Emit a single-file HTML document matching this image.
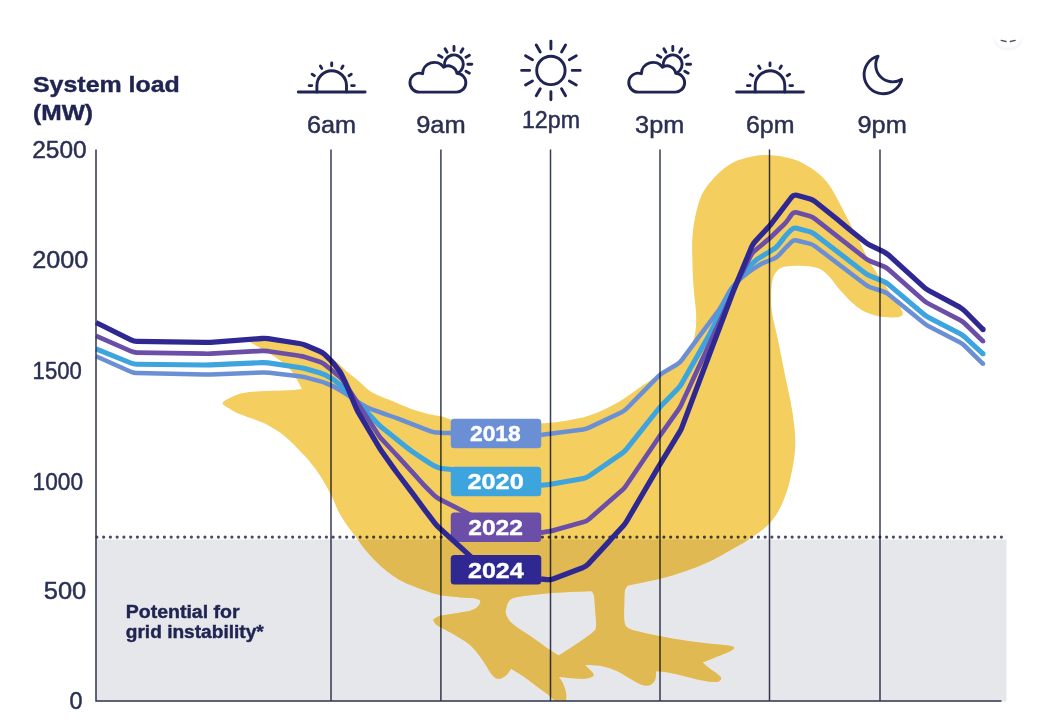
<!DOCTYPE html>
<html lang="en"><head><meta charset="utf-8"><title>System load duck curve</title>
<style>
html,body{margin:0;padding:0;background:#fff}
body{width:1060px;height:726px;overflow:hidden}
svg{display:block}
text{font-family:"Liberation Sans",sans-serif}
.ax{fill:#2a3054;stroke:#2a3054;stroke-width:0.45}
.b{font-weight:bold;stroke-width:0.4}
.ln{fill:none;stroke-linejoin:round;stroke-linecap:butt}
.ic{fill:none;stroke:#1f2452;stroke-width:2.9;stroke-linecap:round;stroke-linejoin:round}
.g{stroke:#383d57;stroke-width:1.5;mix-blend-mode:multiply}
</style></head><body>
<svg width="1060" height="726" viewBox="0 0 1060 726">
<defs>
<clipPath id="gz"><rect x="96" y="539.5" width="910.5" height="162.0"/></clipPath>
<path id="duck" fill-rule="evenodd" d="M247.0 340.5C249.5 341.9 257.3 346.2 262.0 349.0C266.7 351.8 270.7 354.0 275.0 357.0C279.3 360.0 284.5 363.5 288.0 367.0C291.5 370.5 293.7 374.3 296.0 378.0C298.3 381.7 301.0 387.2 302.0 389.0C299.9 389.2 295.2 389.9 289.3 390.2C283.4 390.5 273.2 390.7 266.6 391.0C260.0 391.3 254.3 391.6 249.6 392.1C244.9 392.7 241.7 393.3 238.3 394.3C234.9 395.3 231.6 397.2 229.3 398.3C227.0 399.4 225.6 400.2 224.5 401.0C223.4 401.8 222.7 402.3 222.6 403.0C222.5 403.7 223.2 404.5 224.0 405.3C224.8 406.1 225.1 406.2 227.5 407.6C229.9 409.0 233.7 411.6 238.3 413.6C242.9 415.6 250.6 418.0 255.3 419.8C260.0 421.6 262.8 422.5 266.6 424.4C270.4 426.3 274.2 428.6 278.0 431.2C281.8 433.8 285.9 437.2 289.3 440.2C292.7 443.2 294.9 445.7 298.3 449.3C301.8 452.9 306.4 457.6 310.0 462.0C313.6 466.4 316.5 470.0 320.0 475.5C323.5 481.0 327.9 488.7 331.0 494.8C334.1 500.9 336.1 507.0 338.9 512.2C341.6 517.4 344.6 521.8 347.5 526.0C350.4 530.2 353.9 534.0 356.6 537.7C359.4 541.4 360.9 544.4 364.0 548.3C367.1 552.1 371.5 557.0 375.3 560.8C379.1 564.6 382.8 568.0 386.6 571.0C390.4 574.0 394.2 576.6 398.0 578.9C401.8 581.2 405.5 582.9 409.3 584.6C413.1 586.3 416.8 587.7 420.6 589.1C424.4 590.5 428.6 592.0 432.0 593.0C435.4 594.0 438.1 594.8 441.0 595.3C443.9 595.8 446.0 595.9 449.3 596.3C452.6 596.6 456.8 597.1 460.6 597.4C464.4 597.7 468.9 597.6 472.0 598.0C475.1 598.4 478.2 599.2 479.5 600.0C480.8 600.8 480.3 601.9 480.0 603.0C479.7 604.1 478.9 605.6 477.6 606.8C476.3 608.0 474.8 609.2 472.0 610.2C469.2 611.2 464.4 611.8 460.6 612.5C456.8 613.2 453.1 613.6 449.3 614.2C445.5 614.9 440.7 615.4 438.0 616.4C435.3 617.4 433.8 619.4 433.0 620.0C433.8 620.9 434.2 623.2 437.5 625.5C440.8 627.8 447.1 630.5 452.5 633.8C457.9 637.0 465.0 640.6 470.0 645.0C475.0 649.4 479.0 655.2 482.5 660.0C486.0 664.8 488.8 670.6 491.2 673.8C493.8 676.9 495.2 678.3 497.5 678.8C499.8 679.2 502.7 677.9 505.0 676.2C507.3 674.6 510.2 670.0 511.2 668.8C513.5 670.2 520.2 674.2 525.0 677.5C529.8 680.8 535.8 685.6 540.0 688.8C544.2 691.9 547.5 694.2 550.0 696.2C552.5 698.3 554.2 700.2 555.0 701.0C556.8 701.0 564.2 701.0 566.0 701.0C566.0 699.6 566.6 695.6 566.0 692.5C565.4 689.4 563.7 685.1 562.5 682.5C561.3 679.9 559.4 677.9 558.8 677.0C560.6 677.2 565.6 677.7 570.0 678.0C574.4 678.3 581.0 679.1 585.0 678.8C589.0 678.4 592.3 676.5 593.8 676.0C593.5 675.4 594.0 674.3 592.5 672.5C591.0 670.7 586.2 666.2 585.0 665.0C587.9 665.2 597.1 665.2 602.5 666.2C607.9 667.3 612.5 669.0 617.5 671.2C622.5 673.5 628.3 677.7 632.5 680.0C636.7 682.3 639.6 684.2 642.5 685.0C645.4 685.8 647.9 685.8 650.0 685.0C652.1 684.2 654.0 682.3 655.0 680.0C656.0 677.7 656.0 672.7 656.2 671.2C657.7 671.4 661.0 671.4 665.0 672.0C669.0 672.6 674.2 673.7 680.0 675.0C685.8 676.3 694.2 678.8 700.0 680.0C705.8 681.2 711.6 682.0 715.0 682.0C718.4 682.0 719.7 681.0 720.5 680.0C721.3 679.0 721.8 678.1 720.0 676.2C718.2 674.4 712.9 671.0 710.0 668.8C707.1 666.5 703.8 663.5 702.5 662.5C704.6 661.7 710.4 659.4 715.0 657.5C719.6 655.6 726.8 652.8 730.0 651.2C733.2 649.7 733.8 648.5 734.5 648.0C733.8 647.6 734.1 646.5 730.0 645.8C725.9 645.0 717.5 644.6 710.0 643.8C702.5 642.9 693.3 641.8 685.0 640.5C676.7 639.2 667.1 637.6 660.0 636.2C652.9 634.9 647.7 633.8 642.5 632.5C637.3 631.2 632.0 630.2 629.0 628.5C626.0 626.8 625.3 626.3 624.5 622.0C623.7 617.7 624.2 607.8 624.3 602.5C624.4 597.2 624.4 592.8 625.0 590.0C625.6 587.2 627.5 586.2 628.0 585.5C633.3 584.4 650.5 581.1 660.0 578.8C669.5 576.4 676.7 574.2 685.0 571.2C693.3 568.3 701.7 565.2 710.0 561.2C718.3 557.3 727.9 551.5 735.0 547.5C742.1 543.5 746.7 541.1 752.5 537.0C758.3 532.9 765.1 528.5 770.0 523.0C774.9 517.5 778.6 511.5 782.0 504.0C785.4 496.5 788.3 487.8 790.5 478.0C792.7 468.2 795.0 455.9 795.3 445.0C795.6 434.1 794.2 424.2 792.5 412.5C790.8 400.8 787.5 387.5 785.0 375.0C782.5 362.5 779.7 347.9 777.5 337.5C775.3 327.1 773.0 319.6 772.0 312.5C771.0 305.4 771.2 300.4 771.2 295.0C771.3 289.6 771.5 284.1 772.5 280.0C773.5 275.9 775.2 272.8 777.5 270.5C779.8 268.2 781.4 267.2 786.0 266.5C790.6 265.8 799.3 265.6 805.0 266.0C810.7 266.4 815.8 267.1 820.0 269.0C824.2 270.9 826.7 274.0 830.0 277.5C833.3 281.0 836.0 285.5 840.0 290.0C844.0 294.5 849.5 300.6 853.9 304.3C858.2 308.0 861.5 310.2 866.1 312.3C870.7 314.4 876.6 316.0 881.2 316.8C885.9 317.6 890.8 317.4 894.0 317.4C897.2 317.3 898.8 317.2 900.3 316.5C901.8 315.8 903.0 315.1 902.8 313.3C902.6 311.5 902.0 310.2 899.0 305.5C896.0 300.8 889.8 292.2 885.0 285.0C880.2 277.8 874.6 270.4 870.0 262.5C865.4 254.6 861.0 244.2 857.5 237.5C854.0 230.8 851.5 226.4 849.2 222.0C846.9 217.6 845.8 215.2 843.6 211.0C841.4 206.8 838.8 201.5 836.0 196.6C833.2 191.7 830.7 186.2 826.6 181.5C822.5 176.8 817.2 172.1 811.5 168.3C805.8 164.5 799.8 161.1 792.6 158.9C785.4 156.7 776.0 155.1 768.1 154.9C760.2 154.7 752.4 156.0 745.5 157.9C738.6 159.8 732.9 161.8 726.6 166.4C720.3 171.0 712.4 179.0 707.7 185.3C703.0 191.6 700.8 196.0 698.3 204.2C695.8 212.4 693.6 224.2 692.6 234.3C691.6 244.4 692.3 255.7 692.5 265.0C692.7 274.3 693.2 282.2 693.8 290.0C694.3 297.8 695.7 305.7 696.0 312.0C696.3 318.3 696.2 323.3 695.8 328.0C695.4 332.7 694.6 336.4 693.5 340.0C692.4 343.6 690.9 346.4 689.0 349.5C687.1 352.6 684.8 356.0 682.0 358.8C679.2 361.6 675.8 363.7 672.0 366.3C668.2 368.9 663.3 372.0 659.3 374.6C655.3 377.2 651.8 379.4 648.0 381.9C644.2 384.4 640.4 387.1 636.6 389.8C632.8 392.5 629.1 395.3 625.3 397.8C621.5 400.3 617.8 402.5 614.0 404.6C610.2 406.7 606.4 408.5 602.6 410.2C598.8 411.9 595.1 413.4 591.3 414.7C587.5 416.0 584.4 417.1 580.0 418.1C575.6 419.2 570.0 420.2 565.0 421.0C560.0 421.8 554.5 422.3 550.3 422.7C546.1 423.1 545.0 423.2 540.0 423.3C535.0 423.4 528.3 423.5 520.0 423.3C511.7 423.1 499.2 422.5 490.0 422.0C480.8 421.5 471.5 420.9 465.0 420.5C458.5 420.1 454.4 420.1 450.8 419.5C447.1 418.9 446.4 417.6 443.3 416.8C440.2 416.0 436.7 415.9 432.0 414.8C427.3 413.7 420.7 412.1 415.0 410.2C409.3 408.3 403.7 405.7 398.0 403.4C392.3 401.1 385.7 398.7 381.0 396.6C376.3 394.5 373.4 393.4 369.6 390.8C365.8 388.2 362.1 384.0 358.3 380.8C354.5 377.6 350.1 374.5 347.0 371.8C343.9 369.1 342.3 366.9 339.6 364.6C336.9 362.3 333.9 359.9 331.0 358.0C328.1 356.1 326.3 355.4 322.0 353.5C317.7 351.6 311.2 348.3 305.0 346.5C298.8 344.7 291.7 343.6 285.0 342.5C278.3 341.4 271.3 340.3 265.0 340.0C258.7 339.7 250.0 340.4 247.0 340.5Z M558.8 655.5C561.5 653.8 569.4 648.8 575.0 645.0C580.6 641.2 589.0 635.7 592.5 632.5C596.0 629.3 595.6 630.2 596.0 626.0C596.4 621.8 595.3 612.5 595.0 607.5C594.7 602.5 594.5 598.7 594.0 596.0C593.5 593.3 592.3 592.1 592.0 591.3C588.3 591.4 576.9 591.7 570.0 592.0C563.1 592.3 556.8 592.5 550.5 593.0C544.2 593.5 538.2 594.3 532.5 595.0C526.8 595.7 519.8 596.4 516.0 597.3C512.2 598.2 511.0 599.0 509.5 600.5C508.0 602.0 507.4 603.8 506.8 606.0C506.2 608.2 505.1 611.0 506.0 614.0C506.9 617.0 508.1 619.8 512.5 623.8C516.9 627.7 526.2 633.1 532.5 637.5C538.8 641.9 545.6 647.0 550.0 650.0C554.4 653.0 557.3 654.6 558.8 655.5Z"/>
<g id="sr" class="ic"><path d="M-33.4 0H33.4"/><path d="M-14.8 0V-6.4A14.8 14.8 0 0 1 14.8 -6.4V0"/><path d="M-19.90 -6.40 L-22.60 -6.40M-17.23 -16.35 L-19.57 -17.70M-9.95 -23.63 L-11.30 -25.97M0.00 -26.30 L0.00 -29.00M9.95 -23.63 L11.30 -25.97M17.23 -16.35 L19.57 -17.70M19.90 -6.40 L22.60 -6.40"/></g><g id="cs" class="ic"><path d="M420.5 92.1A9.5 9.5 0 1 1 422.6 73.7A11.6 11.6 0 0 1 443.6 67.2A8.8 8.8 0 0 1 456.9 73.3A9.4 9.4 0 0 1 456 92.1Z"/><path d="M444.6 66A9.45 9.45 0 1 1 458.3 72.7"/><path d="M442.05 57.35 L438.58 55.35M447.10 52.30 L445.10 48.83M454.00 50.45 L454.00 46.45M460.90 52.30 L462.90 48.83M465.95 57.35 L469.42 55.35M467.80 64.25 L471.80 64.25M465.95 71.15 L469.42 73.15"/></g><g id="sun" class="ic"><circle cx="0" cy="0" r="14.2"/><path d="M0.00 -21.30 L0.00 -29.30M10.65 -18.45 L14.65 -25.37M18.45 -10.65 L25.37 -14.65M21.30 -0.00 L29.30 -0.00M18.45 10.65 L25.37 14.65M10.65 18.45 L14.65 25.37M0.00 21.30 L0.00 29.30M-10.65 18.45 L-14.65 25.37M-18.45 10.65 L-25.37 14.65M-21.30 0.00 L-29.30 0.00M-18.45 -10.65 L-25.37 -14.65M-10.65 -18.45 L-14.65 -25.37"/></g><g id="moon" class="ic"><path d="M878.1 56.2A19.1 19.1 0 1 0 901.7 79.3A17 17 0 0 1 878.1 56.2Z"/></g>
</defs>
<rect width="1060" height="726" fill="#fff"/>
<ellipse cx="1008" cy="38.5" rx="14.5" ry="12" fill="#f7f7f8"/><ellipse cx="1008" cy="36" rx="14" ry="11.5" fill="#fff"/><path d="M1001.2 40.4l4.8 1.1M1015.2 40.4l-4.8 1.1" stroke="#4a4f66" stroke-width="1.3" fill="none" stroke-linecap="round"/>
<rect x="96" y="539.5" width="910.5" height="162.0" fill="#e6e7ea"/>
<use href="#duck" fill="#f4cf60"/>
<use href="#duck" fill="#e0b953" clip-path="url(#gz)"/>
<line x1="96.9" y1="537.1" x2="1002" y2="537.1" stroke="#474c68" style="mix-blend-mode:multiply" stroke-width="3.2" stroke-linecap="round" stroke-dasharray="0.01 6.74"/>
<path class="ln" stroke="#6b8fd4" stroke-width="4.5" d="M96.0 356.2L130.8 371.7 Q133.8 373.0 136.9 373.1L204.3 374.5 Q207.5 374.6 210.7 374.5L262.8 372.4 Q266.0 372.3 269.2 372.7L299.3 376.2 Q302.5 376.6 305.6 377.4L319.5 381.2 Q322.6 382.0 325.6 383.2L331.0 385.4 Q334.0 386.6 336.7 388.2L342.6 391.8 Q345.3 393.4 347.9 395.2L355.4 400.2 Q358.0 402.0 360.7 403.6L365.3 406.4 Q368.0 408.0 371.0 409.1L376.0 410.9 Q379.0 412.0 382.0 413.0L392.0 416.5 Q395.0 417.5 398.0 418.7L429.5 430.8 Q432.5 432.0 435.7 432.4L437.6 432.6 Q440.8 433.0 443.9 433.0L452.0 433.0"/>
<path class="ln" stroke="#6b8fd4" stroke-width="4.5" d="M541.0 435.0L547.3 434.1 Q550.5 433.6 553.7 433.2L583.1 429.4 Q586.2 429.0 589.1 427.6L621.6 412.2 Q624.5 410.8 626.7 408.5L657.8 376.9 Q660.0 374.6 662.7 372.9L677.3 364.2 Q680.0 362.5 681.9 359.9L694.7 342.6 Q696.6 340.0 698.5 337.4L718.7 310.3 Q720.6 307.7 722.1 304.9L729.5 291.3 Q731.0 288.5 733.2 286.2L737.8 281.3 Q740.0 279.0 742.5 277.0L748.5 272.3 Q751.0 270.3 753.7 268.6L758.8 265.3 Q761.5 263.6 764.5 262.4L766.0 261.8 Q769.0 260.6 772.0 259.5L773.6 258.8 Q776.6 257.7 778.8 255.3L783.8 249.8 Q786.0 247.4 788.3 245.2L791.4 242.0 Q793.7 239.8 796.8 240.5L809.4 243.6 Q812.5 244.3 815.0 246.2L865.0 284.3 Q867.5 286.2 870.5 287.3L883.2 291.5 Q886.2 292.5 888.7 294.5L923.8 323.0 Q926.2 325.0 929.1 326.5L959.7 342.3 Q962.5 343.8 964.8 346.0L983.0 363.8"/>
<circle cx="983" cy="363.75" r="2.25" fill="#6b8fd4"/>
<rect x="450.75" y="418.75" width="90.5" height="29.5" rx="3.5" fill="#6b8fd4"/>
<text class="b" x="470.0" y="441.2" font-size="21.5" fill="#fff" stroke="#fff" textLength="50.74" lengthAdjust="spacingAndGlyphs">2018</text>
<path class="ln" stroke="#3da4dd" stroke-width="5.1" d="M96.0 348.8L130.8 363.0 Q133.8 364.2 136.9 364.3L204.3 365.0 Q207.5 365.0 210.7 364.9L261.8 362.6 Q265.0 362.5 268.2 362.9L299.3 367.4 Q302.5 367.8 305.6 368.7L319.5 372.7 Q322.6 373.6 325.4 375.1L331.2 378.3 Q334.0 379.8 336.4 381.9L339.6 384.5 Q342.0 386.6 344.2 389.0L354.4 400.1 Q356.6 402.5 359.0 404.6L361.6 406.9 Q364.0 409.0 366.2 411.3L377.8 423.7 Q380.0 426.0 382.5 428.0L392.5 435.9 Q395.0 437.9 397.5 439.9L407.8 448.3 Q410.3 450.3 413.0 452.1L430.3 463.7 Q433.0 465.5 436.0 466.7L437.6 467.3 Q440.6 468.5 443.8 468.8L452.0 469.5"/>
<path class="ln" stroke="#3da4dd" stroke-width="5.1" d="M541.0 485.3L547.3 484.7 Q550.5 484.4 553.6 483.8L583.4 478.4 Q586.5 477.8 589.1 476.0L621.9 453.4 Q624.5 451.6 626.5 449.1L658.0 409.5 Q660.0 407.0 662.2 404.7L677.8 388.8 Q680.0 386.5 681.6 383.7L705.8 341.1 Q707.4 338.3 708.9 335.5L721.9 310.5 Q723.4 307.7 724.8 304.8L731.6 291.4 Q733.0 288.5 734.7 285.8L739.3 278.7 Q741.0 276.0 743.0 273.5L746.3 269.7 Q748.3 267.2 750.7 265.1L755.3 260.8 Q757.7 258.7 760.5 257.1L766.2 253.6 Q769.0 252.0 771.7 250.3L773.9 249.1 Q776.6 247.4 778.5 244.9L784.1 237.6 Q786.0 235.1 788.3 232.8L791.4 229.7 Q793.7 227.4 796.8 228.2L809.4 231.6 Q812.5 232.4 815.0 234.4L865.0 273.0 Q867.5 275.0 870.5 276.2L883.3 281.3 Q886.2 282.5 888.7 284.6L923.8 314.2 Q926.2 316.2 929.1 317.7L959.7 333.5 Q962.5 335.0 964.9 337.2L983.0 353.8"/>
<circle cx="983" cy="353.75" r="2.55" fill="#3da4dd"/>
<rect x="450.75" y="466.75" width="90.5" height="29.5" rx="3.5" fill="#3da4dd"/>
<text class="b" x="467.5" y="489.4" font-size="21.5" fill="#fff" stroke="#fff" textLength="56.24" lengthAdjust="spacingAndGlyphs">2020</text>
<path class="ln" stroke="#6a4ea8" stroke-width="4.7" d="M96.0 335.8L130.8 351.2 Q133.8 352.5 136.9 352.6L204.3 353.7 Q207.5 353.8 210.7 353.6L261.8 350.9 Q265.0 350.8 268.2 351.2L299.3 355.8 Q302.5 356.2 305.5 357.2L319.6 361.8 Q322.6 362.8 325.1 364.8L331.5 370.0 Q334.0 372.0 336.5 374.1L339.5 376.6 Q342.0 378.7 343.7 381.4L378.3 434.7 Q380.0 437.4 382.2 439.7L392.8 451.0 Q395.0 453.3 397.2 455.7L408.1 467.6 Q410.3 470.0 412.5 472.4L423.3 484.3 Q425.5 486.7 427.8 489.0L434.2 495.3 Q436.5 497.6 439.4 499.1L463.1 511.1 Q466.0 512.6 468.9 514.0L472.0 515.6"/>
<path class="ln" stroke="#6a4ea8" stroke-width="4.7" d="M541.0 532.6L547.3 531.7 Q550.5 531.2 553.6 530.4L583.4 522.1 Q586.5 521.3 588.9 519.2L622.0 490.3 Q624.4 488.2 626.2 485.5L657.7 439.0 Q659.5 436.3 661.4 433.7L678.1 410.1 Q680.0 407.5 681.3 404.6L710.7 341.2 Q712.0 338.3 713.3 335.4L724.7 310.6 Q726.0 307.7 727.3 304.8L733.7 289.9 Q735.0 287.0 736.4 284.1L750.6 255.9 Q752.0 253.0 754.5 251.0L766.5 240.9 Q769.0 238.9 771.3 236.7L783.7 224.8 Q786.0 222.6 787.8 220.0L791.9 214.2 Q793.7 211.6 796.8 212.5L809.4 215.9 Q812.5 216.8 815.0 218.8L865.0 258.0 Q867.5 260.0 870.5 261.2L883.3 266.3 Q886.2 267.5 888.7 269.6L923.8 300.4 Q926.2 302.5 929.1 304.0L959.7 319.8 Q962.5 321.2 964.8 323.5L983.0 341.2"/>
<circle cx="983" cy="341.25" r="2.35" fill="#6a4ea8"/>
<rect x="450.75" y="512.4" width="90.5" height="29.5" rx="3.5" fill="#6a4ea8"/>
<text class="b" x="468.2" y="535.2" font-size="21.5" fill="#fff" stroke="#fff" textLength="54.79" lengthAdjust="spacingAndGlyphs">2022</text>
<path class="ln" stroke="#2f2893" stroke-width="5.3" d="M96.0 322.5L130.9 339.8 Q133.8 341.2 136.9 341.3L204.3 342.4 Q207.5 342.5 210.7 342.3L261.8 338.5 Q265.0 338.2 268.2 338.7L299.3 343.5 Q302.5 344.0 305.5 345.2L319.6 351.2 Q322.6 352.4 324.9 354.6L328.7 358.4 Q331.0 360.6 333.1 363.0L337.5 368.4 Q339.6 370.8 341.1 373.7L343.8 379.1 Q345.3 382.0 346.5 385.0L355.4 406.3 Q356.6 409.3 358.2 412.1L378.4 446.2 Q380.0 449.0 381.8 451.6L392.7 466.9 Q394.5 469.5 396.4 472.0L408.4 487.8 Q410.3 490.3 412.2 492.9L423.6 508.4 Q425.5 511.0 427.5 513.5L435.0 523.3 Q437.0 525.8 439.4 528.0L473.0 558.6"/>
<path class="ln" stroke="#2f2893" stroke-width="5.3" d="M541.0 579.0L546.8 579.6 Q550.0 580.0 553.0 578.9L583.3 567.4 Q586.2 566.2 588.4 563.9L607.8 542.9 Q610.0 540.5 612.1 538.1L623.4 525.7 Q625.5 523.3 627.1 520.5L657.6 468.3 Q659.2 465.5 660.9 462.8L679.3 432.5 Q681.0 429.8 682.1 426.8L733.1 291.9 Q734.2 288.9 735.4 285.9L751.8 246.6 Q753.0 243.6 755.2 241.3L766.8 228.9 Q769.0 226.6 771.0 224.1L791.7 197.0 Q793.7 194.5 796.8 195.3L809.4 198.7 Q812.5 199.5 815.0 201.5L832.5 215.5 Q835.0 217.5 837.5 219.5L850.0 230.0 Q852.5 232.0 855.0 234.0L865.0 242.0 Q867.5 244.0 870.4 245.4L883.4 251.6 Q886.2 253.0 888.6 255.1L923.9 287.1 Q926.2 289.2 929.1 290.8L959.7 307.2 Q962.5 308.8 964.7 311.0L983.0 329.5"/>
<circle cx="983" cy="329.5" r="2.65" fill="#2f2893"/>
<rect x="450.75" y="555" width="90.5" height="29.5" rx="3.5" fill="#2f2893"/>
<text class="b" x="468.0" y="577.6" font-size="21.5" fill="#fff" stroke="#fff" textLength="55.74" lengthAdjust="spacingAndGlyphs">2024</text>
<line class="g" x1="331" y1="149.5" x2="331" y2="701"/>
<line class="g" x1="440.9" y1="149.5" x2="440.9" y2="701"/>
<line class="g" x1="550.5" y1="149.5" x2="550.5" y2="701"/>
<line class="g" x1="660" y1="149.5" x2="660" y2="701"/>
<line class="g" x1="769.5" y1="149.5" x2="769.5" y2="701"/>
<line class="g" x1="880" y1="149.5" x2="880" y2="701"/>
<path d="M96 149.5 V701 H1001.5" fill="none" stroke="#2e3452" stroke-width="1.5"/>
<text class="b" x="33.0" y="92.2" font-size="22" fill="#1f2452" stroke="#1f2452" textLength="146.8" lengthAdjust="spacingAndGlyphs">System load</text>
<text class="b" x="33.0" y="119.7" font-size="22" fill="#1f2452" stroke="#1f2452" textLength="60.0" lengthAdjust="spacingAndGlyphs">(MW)</text>
<text class="ax" x="32.2" y="158.1" font-size="23" fill="#2a3054" textLength="54.39" lengthAdjust="spacingAndGlyphs">2500</text>
<text class="ax" x="32.2" y="268" font-size="23" fill="#2a3054" textLength="55.99" lengthAdjust="spacingAndGlyphs">2000</text>
<text class="ax" x="32.6" y="379.2" font-size="23" fill="#2a3054" textLength="49.19" lengthAdjust="spacingAndGlyphs">1500</text>
<text class="ax" x="32.6" y="489.5" font-size="23" fill="#2a3054" textLength="50.39" lengthAdjust="spacingAndGlyphs">1000</text>
<text class="ax" x="43.75" y="598.9" font-size="23" fill="#2a3054" textLength="42.51" lengthAdjust="spacingAndGlyphs">500</text>
<text class="ax" x="69.5" y="708.8" font-size="23" fill="#2a3054" textLength="13.0" lengthAdjust="spacingAndGlyphs">0</text>
<text class="ax" x="306.9" y="133.2" font-size="23" fill="#2a3054" textLength="49.21" lengthAdjust="spacingAndGlyphs">6am</text>
<text class="ax" x="416.2" y="133.2" font-size="23" fill="#2a3054" textLength="49.51" lengthAdjust="spacingAndGlyphs">9am</text>
<text class="ax" x="521.9" y="128" font-size="23" fill="#2a3054" textLength="58.11" lengthAdjust="spacingAndGlyphs">12pm</text>
<text class="ax" x="635.1" y="133.1" font-size="23" fill="#2a3054" textLength="49.11" lengthAdjust="spacingAndGlyphs">3pm</text>
<text class="ax" x="746.0" y="133.1" font-size="23" fill="#2a3054" textLength="48.51" lengthAdjust="spacingAndGlyphs">6pm</text>
<text class="ax" x="857.5" y="133.2" font-size="23" fill="#2a3054" textLength="49.31" lengthAdjust="spacingAndGlyphs">9pm</text>
<text class="b" x="125.75" y="618.4" font-size="17.6" fill="#1f2452" stroke="#1f2452" textLength="113.74" lengthAdjust="spacingAndGlyphs">Potential for</text>
<text class="b" x="125.75" y="638.4" font-size="17.6" fill="#1f2452" stroke="#1f2452" textLength="138.0" lengthAdjust="spacingAndGlyphs">grid instability*</text>
<use href="#sr" x="331.7" y="92"/>
<use href="#cs" x="0" y="0"/>
<use href="#sun" x="550.9" y="70.4"/>
<use href="#cs" x="218.8" y="0"/>
<use href="#sr" x="770" y="92"/>
<use href="#moon" x="0" y="0"/>
</svg>
</body></html>
